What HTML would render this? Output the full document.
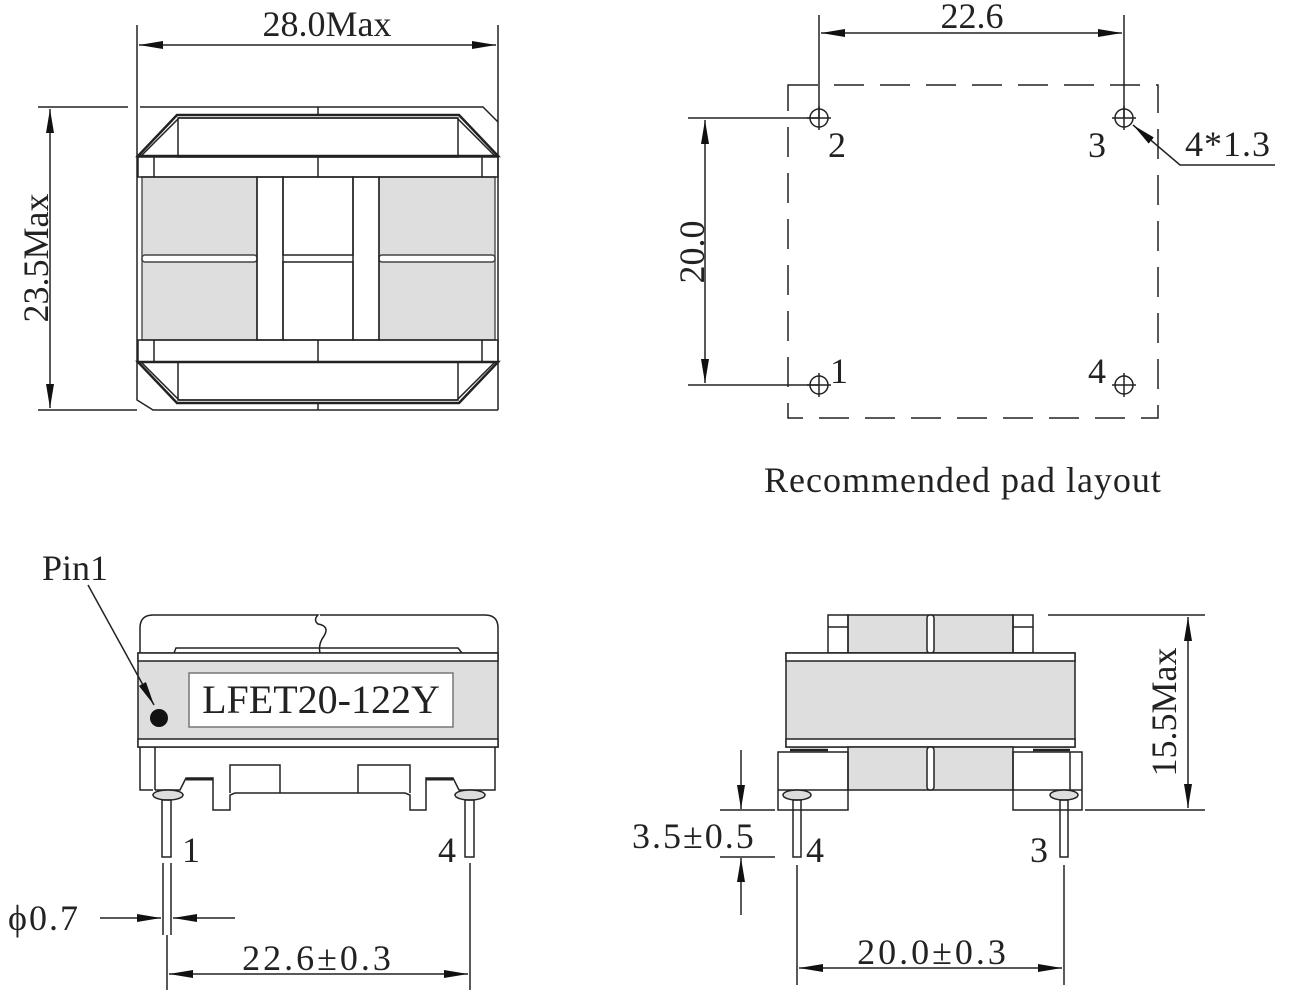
<!DOCTYPE html>
<html><head><meta charset="utf-8"><style>
html,body{margin:0;padding:0;background:#fff}
svg{display:block}
text{font-family:"Liberation Serif",serif;fill:#222}
</style></head><body>
<svg width="1295" height="993" viewBox="0 0 1295 993" xmlns="http://www.w3.org/2000/svg">
<defs>
<marker id="a" viewBox="0 0 24 8" refX="24" refY="4" markerWidth="24" markerHeight="8" markerUnits="userSpaceOnUse" orient="auto-start-reverse"><path d="M0,0 L24,4 L0,8 z" fill="#111"/></marker>
</defs>
<g stroke="#222" stroke-width="1.5" fill="none">
<!-- TOP LEFT VIEW -->
<line x1="137" y1="25" x2="137" y2="140"/>
<line x1="498" y1="25" x2="498" y2="410"/>
<line x1="139" y1="45" x2="496" y2="45" marker-start="url(#a)" marker-end="url(#a)"/>
<line x1="38" y1="107" x2="128" y2="107"/>
<line x1="38" y1="410" x2="137" y2="410"/>
<line x1="50" y1="109" x2="50" y2="408" marker-start="url(#a)" marker-end="url(#a)"/>
<polyline points="140,107 483,107 498,122"/>
<polyline points="137,140 137,400 153,410 498,410"/>
<rect x="142" y="177" width="115" height="163" fill="#dedede" stroke="#555"/>
<rect x="379" y="177" width="116" height="163" fill="#dedede" stroke="#555"/>
<rect x="142" y="255" width="115" height="7" fill="#fff" rx="3" stroke="#444"/>
<rect x="379" y="255" width="116" height="7" fill="#fff" rx="3" stroke="#444"/>
<rect x="257" y="177" width="26" height="163"/>
<rect x="353" y="177" width="26" height="163"/>
<rect x="283" y="177" width="70" height="78"/>
<rect x="283" y="262" width="70" height="78"/>
<rect x="138" y="157" width="360" height="20"/>
<rect x="138" y="340" width="360" height="22"/>
<line x1="154" y1="157" x2="154" y2="177"/><line x1="482" y1="157" x2="482" y2="177"/>
<line x1="154" y1="340" x2="154" y2="362"/><line x1="482" y1="340" x2="482" y2="362"/>
<line x1="318" y1="107" x2="318" y2="115"/><line x1="318" y1="157" x2="318" y2="177"/>
<line x1="318" y1="340" x2="318" y2="362"/><line x1="318" y1="402" x2="318" y2="410"/>
<polygon points="138,156 177,115 459,115 498,156" stroke-width="2.5"/>
<polyline points="141,156 179,118 457,118 495,156"/>
<rect x="178" y="118" width="280" height="39"/>
<polygon points="138,362 177,403 459,403 498,362" stroke-width="2.5"/>
<polyline points="141,362 179,400 457,400 495,362"/>
<rect x="178" y="362" width="280" height="38"/>
<!-- TOP RIGHT -->
<rect x="788" y="85" width="370" height="333" stroke-dasharray="30,16"/>
<line x1="819" y1="15" x2="819" y2="118"/><line x1="1124" y1="15" x2="1124" y2="118"/>
<line x1="821" y1="33" x2="1122" y2="33" marker-start="url(#a)" marker-end="url(#a)"/>
<line x1="688" y1="118" x2="819" y2="118"/><line x1="688" y1="385" x2="819" y2="385"/>
<line x1="705" y1="120" x2="705" y2="383" marker-start="url(#a)" marker-end="url(#a)"/>
<circle cx="819" cy="118" r="9"/><line x1="807" y1="118" x2="831" y2="118"/><line x1="819" y1="106" x2="819" y2="130"/>
<circle cx="1124" cy="118" r="9"/><line x1="1112" y1="118" x2="1136" y2="118"/><line x1="1124" y1="106" x2="1124" y2="130"/>
<circle cx="819" cy="385" r="9"/><line x1="807" y1="385" x2="831" y2="385"/><line x1="819" y1="373" x2="819" y2="397"/>
<circle cx="1124" cy="385" r="9"/><line x1="1112" y1="385" x2="1136" y2="385"/><line x1="1124" y1="373" x2="1124" y2="397"/>
<polyline points="1275,165 1180,165 1133,125" marker-end="url(#a)"/>
<!-- BOTTOM LEFT -->
<path d="M140,653 L140,628 Q140,615 153,615 L318,615 Q313,620 318,624 Q330,626 324,636 Q318,644 320,653 M320,615 L485,615 Q498,615 498,628 L498,653"/>
<path d="M174,653 L176,648 L458,648 L462,653"/>
<rect x="138" y="653" width="360" height="94" fill="#dedede"/>
<rect x="138" y="653" width="360" height="8" fill="#fff"/>
<rect x="138" y="739" width="360" height="8" fill="#fff"/>
<rect x="189" y="673" width="264" height="54" fill="#fff" stroke="#777"/>
<line x1="88" y1="585" x2="154" y2="705" marker-end="url(#a)"/>
<path d="M140,747 L140,790 L153,790 M155,747 L155,790 M495,747 L495,790 L482,790 M155,790 L180,790 L186,778 L213,778 L213,810 L230,810 L230,795 L235,793 L405,793 L410,795 L410,810 L426,810 L426,778 L453,778 L459,790 L482,790"/>
<path d="M230,793 L230,765 L280,765 L280,793 M358,793 L358,765 L410,765 L410,793"/>
<line x1="186" y1="779" x2="213" y2="779" stroke-width="3"/><line x1="426" y1="779" x2="453" y2="779" stroke-width="3"/>
<ellipse cx="168" cy="795" rx="15" ry="5" fill="#ddd"/><ellipse cx="470" cy="795" rx="15" ry="5" fill="#ddd"/>
<rect x="162" y="800" width="9" height="57"/><rect x="465" y="800" width="9" height="57"/>
<line x1="163" y1="863" x2="163" y2="935"/><line x1="171" y1="863" x2="171" y2="935"/>
<line x1="167" y1="935" x2="167" y2="990"/><line x1="470" y1="863" x2="470" y2="990"/>
<line x1="100" y1="918" x2="161" y2="918" marker-end="url(#a)"/>
<line x1="235" y1="918" x2="173" y2="918" marker-end="url(#a)"/>
<line x1="169" y1="974" x2="468" y2="974" marker-start="url(#a)" marker-end="url(#a)"/>
<!-- BOTTOM RIGHT -->
<rect x="848" y="615" width="165" height="38" fill="#dedede"/>
<rect x="828" y="615" width="20" height="38"/><line x1="828" y1="627" x2="848" y2="627"/>
<rect x="1013" y="615" width="20" height="38"/><line x1="1013" y1="627" x2="1033" y2="627"/>
<rect x="927" y="615" width="7" height="38" rx="3" fill="#fff"/>
<rect x="786" y="653" width="289" height="94" fill="#dedede"/>
<rect x="786" y="653" width="289" height="8" fill="#fff"/>
<rect x="786" y="739" width="289" height="8" fill="#fff"/>
<rect x="848" y="747" width="165" height="43" fill="#dedede"/>
<rect x="927" y="747" width="7" height="43" rx="3" fill="#fff"/>
<rect x="778" y="752" width="70" height="58"/><line x1="778" y1="790" x2="848" y2="790"/>
<rect x="1013" y="752" width="69" height="58"/><line x1="1013" y1="790" x2="1082" y2="790"/><line x1="1070" y1="752" x2="1070" y2="790"/>
<line x1="790" y1="750" x2="828" y2="750" stroke-width="2.5"/><line x1="1033" y1="750" x2="1070" y2="750" stroke-width="2.5"/>
<ellipse cx="797" cy="795" rx="14" ry="5" fill="#ddd"/><ellipse cx="1064" cy="795" rx="14" ry="5" fill="#ddd"/>
<rect x="793" y="800" width="8" height="57"/><rect x="1060" y="800" width="8" height="57"/>
<line x1="1048" y1="615" x2="1205" y2="615"/><line x1="1085" y1="810" x2="1205" y2="810"/>
<line x1="1188" y1="617" x2="1188" y2="808" marker-start="url(#a)" marker-end="url(#a)"/>
<line x1="720" y1="810" x2="775" y2="810"/><line x1="720" y1="857" x2="775" y2="857"/>
<line x1="741" y1="750" x2="741" y2="809" marker-end="url(#a)"/>
<line x1="741" y1="915" x2="741" y2="858" marker-end="url(#a)"/>
<line x1="797" y1="865" x2="797" y2="985"/><line x1="1064" y1="865" x2="1064" y2="985"/>
<line x1="799" y1="968" x2="1062" y2="968" marker-start="url(#a)" marker-end="url(#a)"/>
</g>
<circle cx="159" cy="718" r="9" fill="#111"/>
<g font-size="36">
<text x="327" y="36" text-anchor="middle">28.0Max</text>
<text transform="translate(48,258) rotate(-90)" text-anchor="middle">23.5Max</text>
<text x="972" y="28" text-anchor="middle">22.6</text>
<text transform="translate(704,252) rotate(-90)" text-anchor="middle">20.0</text>
<text x="828" y="157">2</text><text x="1088" y="157">3</text>
<text x="830" y="383">1</text><text x="1088" y="383">4</text>
<text x="1185" y="156" letter-spacing="1">4*1.3</text>
<text x="963" y="492" text-anchor="middle" letter-spacing="1">Recommended pad layout</text>
<text x="42" y="580">Pin1</text>
<text x="321" y="713" text-anchor="middle" font-size="40">LFET20-122Y</text>
<text x="182" y="862">1</text><text x="438" y="862">4</text>
<text x="8" y="930" letter-spacing="2">ϕ0.7</text>
<text x="318" y="970" text-anchor="middle" letter-spacing="3">22.6±0.3</text>
<text x="806" y="862">4</text><text x="1030" y="862">3</text>
<text x="632" y="848" letter-spacing="2">3.5±0.5</text>
<text x="933" y="964" text-anchor="middle" letter-spacing="3">20.0±0.3</text>
<text transform="translate(1176,712) rotate(-90)" text-anchor="middle">15.5Max</text>
</g>
</svg>
</body></html>
